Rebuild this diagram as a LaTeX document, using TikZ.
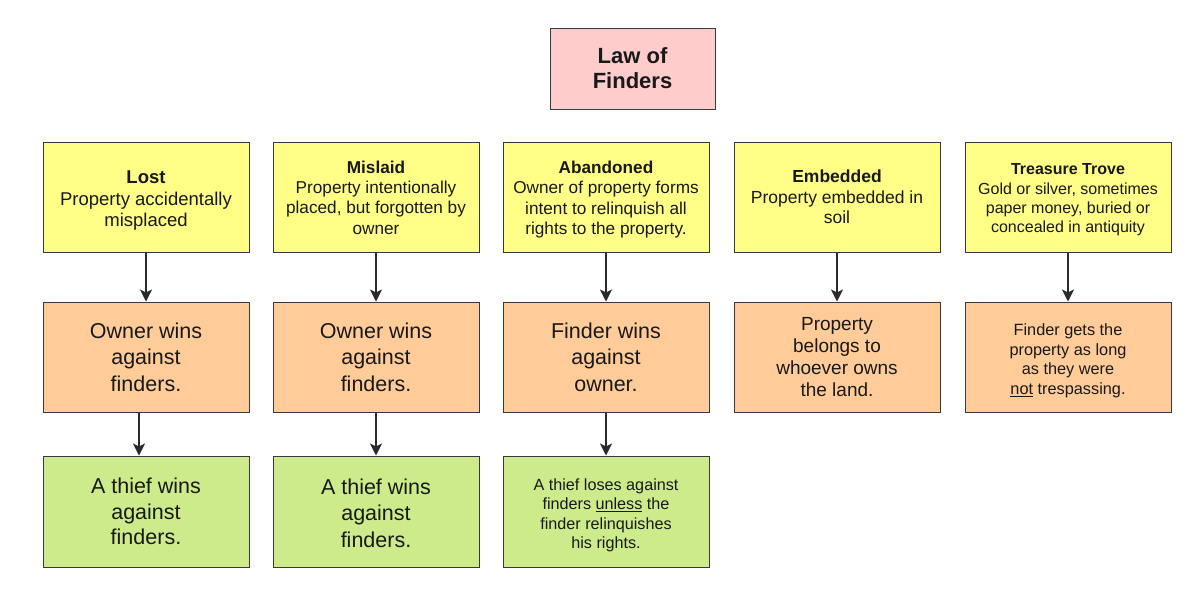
\documentclass[tikz,border=0pt]{standalone}
\usepackage{fontspec}
\setmainfont{Liberation Sans}
\usetikzlibrary{arrows.meta}
\definecolor{pinkfill}{HTML}{FFCCCC}
\definecolor{yellowfill}{HTML}{FFFF88}
\definecolor{orangefill}{HTML}{FFCC99}
\definecolor{greenfill}{HTML}{CDEB8B}
\definecolor{bordercol}{HTML}{36393D}
\definecolor{arrowcol}{HTML}{2A2A2A}
\newcommand{\fs}[2]{\fontsize{#1}{#2}\selectfont}
\newcommand{\dnbox}[2]{\raisebox{-#1}[\height][\depth]{\begin{tabular}{@{}c@{}}#2\end{tabular}}}
\tikzset{
  box/.style={draw=bordercol, line width=1pt, minimum width=206pt, minimum height=110pt, align=center, inner sep=0pt, text=black!90},
  titlebox/.style={box, fill=pinkfill, minimum width=165pt, minimum height=81pt, font=\fs{22}{25}\bfseries},
  catbox/.style={box, fill=yellowfill},
  resbox/.style={box, fill=orangefill},
  thiefbox/.style={box, fill=greenfill, minimum height=111pt},
  arr/.style={draw=arrowcol, line width=1.5pt, -{Stealth[length=12pt,width=12pt,inset=3pt]}}
}
\begin{document}
\begin{tikzpicture}[x=1pt,y=-1pt]
\useasboundingbox[fill=white] (0,0) rectangle (1200,595);
\node[titlebox] (law) at (632.5,68.5) {Law of\\Finders};
% row 1
\node[catbox, font=\fs{18.5}{21.5}] (c1) at (146,197) {\dnbox{4pt}{\textbf{Lost}\\Property accidentally\\misplaced}};
\node[catbox, font=\fs{17.2}{20.3}] (c2) at (376,197) {\dnbox{2.5pt}{\textbf{Mislaid}\\Property intentionally\\placed, but forgotten by\\owner}};
\node[catbox, font=\fs{17.2}{20.3}] (c3) at (606,197) {\dnbox{3pt}{\textbf{Abandoned}\\Owner of property forms\\intent to relinquish all\\rights to the property.}};
\node[catbox, font=\fs{17.5}{20.5}] (c4) at (837,197) {\dnbox{2pt}{\textbf{Embedded}\\Property embedded in\\soil}};
\node[catbox, font=\fs{16}{19.3}] (c5) at (1068,197) {\dnbox{3pt}{\textbf{Treasure Trove}\\Gold or silver, sometimes\\paper money, buried or\\concealed in antiquity}};
% row 2
\node[resbox, font=\fs{21.5}{26.5}] (r1) at (146,357) {Owner wins\\against\\finders.};
\node[resbox, font=\fs{21.5}{26.5}] (r2) at (376,357) {Owner wins\\against\\finders.};
\node[resbox, font=\fs{21.5}{26.5}] (r3) at (606,357) {Finder wins\\against\\owner.};
\node[resbox, font=\fs{19}{22}] (r4) at (837,357) {\dnbox{2.5pt}{Property\\belongs to\\whoever owns\\the land.}};
\node[resbox, font=\fs{16.3}{19.8}] (r5) at (1068,357) {\dnbox{4pt}{Finder gets the\\property as long\\as they were\\\underline{not} trespassing.}};
% row 3
\node[thiefbox, font=\fs{21.5}{25.5}] (t1) at (146,511.5) {A thief wins\\against\\finders.};
\node[thiefbox, font=\fs{21.5}{26.5}] (t2) at (376,511.5) {\dnbox{4pt}{A thief wins\\against\\finders.}};
\node[thiefbox, font=\fs{16.2}{19.6}] (t3) at (606,511.5) {\dnbox{4pt}{A thief loses against\\finders \underline{unless} the\\finder relinquishes\\his rights.}};
% arrows
\draw[arr] (c1.south) -- (r1.north);
\draw[arr] (c2.south) -- (r2.north);
\draw[arr] (c3.south) -- (r3.north);
\draw[arr] (c4.south) -- (r4.north);
\draw[arr] (c5.south) -- (r5.north);
\draw[arr] ([xshift=-7pt]r1.south) -- ([xshift=-7pt]t1.north);
\draw[arr] (r2.south) -- (t2.north);
\draw[arr] (r3.south) -- (t3.north);
\end{tikzpicture}
\end{document}
